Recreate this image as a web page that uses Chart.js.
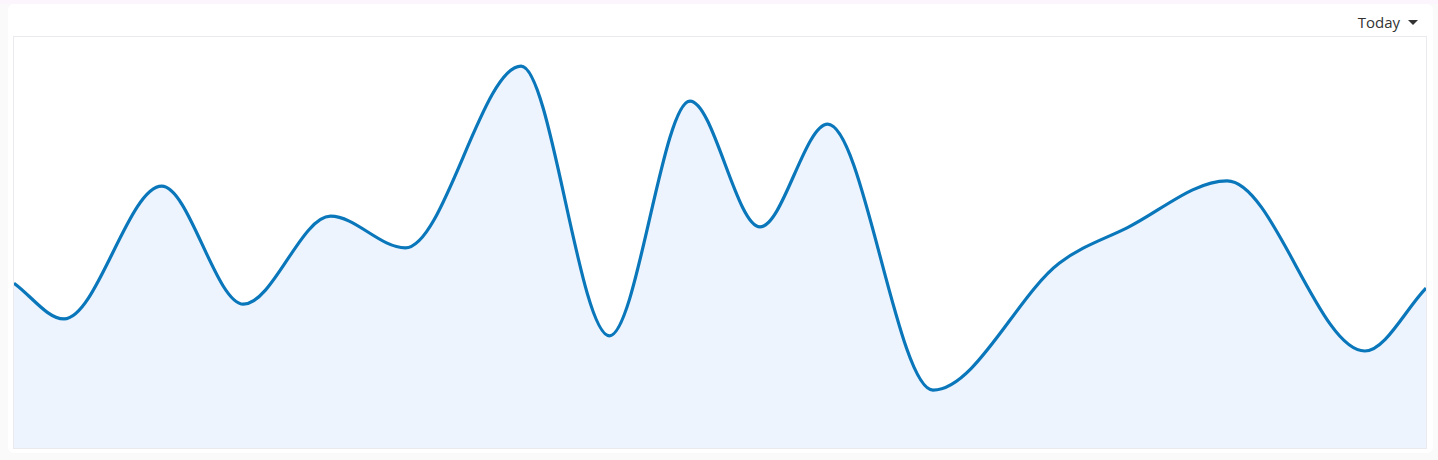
<!DOCTYPE html>
<html>
<head>
<meta charset="utf-8">
<script src="https://cdn.jsdelivr.net/npm/chart.js@4/dist/chart.umd.min.js"></script>
<style>
  html, body { margin: 0; padding: 0; }
  body { width: 1438px; height: 460px; background: #fafafa; position: relative; overflow: hidden; font-family: "Open Sans", Roboto, "Noto Sans", sans-serif; }
  #topband { position: absolute; left: 0; top: 0; width: 1438px; height: 4px; background: #fdf5fd; }
  #card { position: absolute; left: 8px; top: 4px; width: 1425px; height: 449px; background: #ffffff; border-radius: 6px; }
  #picker { position: absolute; right: 20px; top: 12px; font-size: 15px; color: #333; line-height: 20px; }
  #picker .caret { display: inline-block; width: 0; height: 0; border-left: 5.5px solid transparent; border-right: 5.5px solid transparent; border-top: 5px solid #333; margin-left: 8px; vertical-align: middle; position: relative; top: -1px; }
  #frame { position: absolute; left: 13px; top: 36px; width: 1412px; height: 411px; border: 1px solid #e9e9ee; }
  #frame canvas { display: block; }
</style>
</head>
<body>
<div id="topband"></div>
<div id="card"></div>
<div id="picker">Today<span class="caret"></span></div>
<div id="frame"><canvas id="c" width="1412" height="411"></canvas></div>
<script>
// time of day (hours) and measured values
const hours  = [0, 0.85, 2.51, 3.90, 5.38, 6.65, 8.62, 10.12, 11.49, 12.68, 13.83, 15.62, 17.77, 18.91, 20.62, 22.96, 24];
const values = [40.1, 31.4, 63.7, 35.0, 56.4, 48.7, 92.9, 27.3, 84.4, 53.8, 78.8, 14.1, 45.0, 53.5, 65.0, 23.6, 38.9];
const periodLabel = "Today";

const points = hours.map((h, i) => ({ x: h, y: values[i] }));

new Chart(document.getElementById('c'), {
  type: 'line',
  data: {
    datasets: [{
      data: points,
      borderColor: '#0a77bb',
      borderWidth: 3.2,
      backgroundColor: '#edf4fe',
      fill: 'start',
      pointRadius: 0,
      cubicInterpolationMode: 'monotone'
    }]
  },
  options: {
    responsive: false,
    animation: false,
    layout: { padding: 0 },
    plugins: { legend: { display: false }, tooltip: { enabled: false } },
    scales: {
      x: { type: 'linear', min: 0, max: 24, display: false },
      y: { min: 0, max: 100, display: false }
    }
  }
});
</script>
</body>
</html>
